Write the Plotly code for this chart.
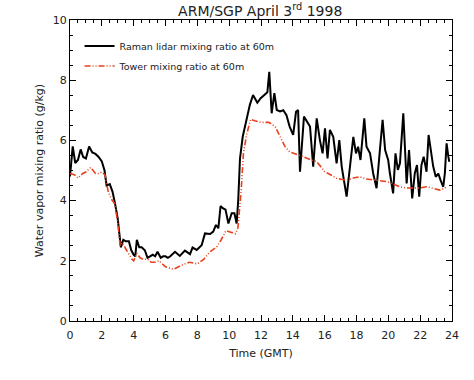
import plotly.graph_objects as go

lidar_t = [0.0, 0.17, 0.33, 0.5, 0.67, 0.83, 1.0, 1.2, 1.4, 1.6, 1.8, 2.0, 2.17, 2.3, 2.5, 2.67, 2.83, 3.0, 3.1, 3.2,
           3.35, 3.5, 3.7, 3.85, 4.0, 4.1, 4.2, 4.35, 4.5, 4.7, 4.87, 5.05, 5.2, 5.35, 5.5, 5.7, 5.85, 6.0, 6.15, 6.3,
           6.6, 6.9, 7.22, 7.54, 7.7, 7.96, 8.27, 8.48, 8.8, 9.0, 9.17, 9.32, 9.46, 9.6, 9.77, 9.95, 10.16, 10.33, 10.47, 10.57,
           10.68, 10.85, 11.1, 11.3, 11.5, 11.77, 11.98, 12.25, 12.4, 12.52, 12.6, 12.67, 12.84, 12.99, 13.2, 13.4, 13.6, 13.8, 14.02, 14.2,
           14.33, 14.45, 14.7, 14.93, 15.08, 15.28, 15.5, 15.7, 15.87, 16.02, 16.18, 16.33, 16.54, 16.75, 16.92, 17.07, 17.38, 17.59, 17.8, 17.97,
           18.1, 18.25, 18.49, 18.63, 18.85, 19.05, 19.26, 19.47, 19.64, 19.8, 19.99, 20.1, 20.3, 20.45, 20.6, 20.73, 20.94, 21.05, 21.15, 21.3,
           21.5, 21.66, 21.8, 21.94, 22.08, 22.22, 22.4, 22.53, 22.67, 22.82, 22.98, 23.14, 23.28, 23.45, 23.55, 23.66, 23.77, 23.83]
lidar_v = [4.8, 5.8, 5.25, 5.35, 5.7, 5.45, 5.4, 5.8, 5.6, 5.55, 5.45, 5.3, 5.0, 4.5, 4.55, 4.3, 3.9, 3.4, 2.9, 2.45,
           2.7, 2.65, 2.65, 2.35, 2.2, 2.15, 2.7, 2.45, 2.45, 2.35, 2.1, 2.15, 2.2, 2.15, 2.3, 2.1, 2.15, 2.15, 2.1, 2.15,
           2.3, 2.16, 2.34, 2.22, 2.44, 2.36, 2.52, 2.91, 2.89, 2.97, 3.19, 3.08, 3.82, 3.75, 3.7, 3.24, 3.58, 3.58, 3.24, 4.02,
           5.4, 6.12, 6.68, 7.18, 7.51, 7.25, 7.4, 7.51, 7.6, 8.28, 7.7, 6.9, 7.57, 7.01, 6.96, 7.0, 6.84, 6.46, 6.18, 6.95,
           7.01, 4.96, 6.79, 6.6, 6.46, 5.13, 6.73, 6.01, 5.57, 6.4, 5.4, 6.35, 6.12, 5.24, 6.01, 5.13, 4.13, 5.13, 6.12, 5.57,
           5.79, 5.35, 6.73, 5.79, 5.57, 4.9, 4.41, 5.68, 6.68, 5.68, 5.35, 4.9, 4.24, 5.57, 5.02, 5.24, 6.9, 5.68, 4.57, 5.68,
           4.07, 4.9, 5.18, 4.13, 5.18, 5.46, 4.96, 6.18, 5.68, 5.13, 4.79, 4.9, 4.68, 4.46, 4.9, 5.9, 5.46, 5.29]

tower_t = [0.0, 0.3, 0.5, 0.8, 1.0, 1.3, 1.6, 1.8, 2.0, 2.2, 2.4, 2.6, 2.8, 3.0, 3.15, 3.3, 3.5, 3.7, 3.9, 4.0,
           4.2, 4.4, 4.6, 4.9, 5.1, 5.3, 5.6, 6.0, 6.5, 7.0, 7.5, 8.0, 8.4, 8.8, 9.2, 9.5, 9.8, 10.1, 10.4, 10.55,
           10.75, 10.9, 11.1, 11.35, 11.6, 12.0, 12.5, 12.9, 13.2, 13.5, 13.8, 14.2, 14.65, 15.0, 15.5, 15.8, 16.0, 16.4, 16.75, 17.1,
           17.4, 17.8, 18.2, 18.6, 19.05, 19.5, 19.9, 20.3, 20.73, 21.1, 21.56, 22.0, 22.4, 22.8, 23.24, 23.5, 23.66]
tower_v = [4.9, 4.85, 4.75, 4.9, 4.95, 5.1, 4.9, 4.9, 4.95, 4.85, 4.3, 4.05, 3.9, 3.3, 2.5, 2.6, 2.4, 2.2, 2.05, 2.0,
           2.25, 2.1, 2.05, 2.05, 1.95, 1.95, 2.0, 1.8, 1.72, 1.85, 1.95, 1.9, 2.05, 2.3, 2.45, 2.7, 3.0, 2.95, 2.9, 3.1,
           4.3, 5.6, 6.2, 6.7, 6.65, 6.6, 6.6, 6.45, 6.1, 5.8, 5.62, 5.55, 5.46, 5.38, 5.29, 5.1, 4.96, 4.85, 4.74, 4.7,
           4.68, 4.75, 4.79, 4.72, 4.68, 4.65, 4.63, 4.55, 4.46, 4.42, 4.41, 4.42, 4.46, 4.4, 4.35, 4.4, 4.46]

x_ticks = list(range(0, 25, 2))
y_ticks = list(range(0, 11, 2))

FONT = "DejaVu Sans"
TXT = "#222222"

fig = go.Figure()
fig.add_trace(go.Scatter(x=lidar_t, y=lidar_v, mode="lines", name="Raman lidar mixing ratio at 60m",
                         legendgroup="a", line=dict(color="black", width=2)))
fig.add_trace(go.Scatter(x=tower_t, y=tower_v, mode="lines", name="Tower mixing ratio at 60m",
                         legendgroup="b", line=dict(color="#e8401c", width=1.6, dash="6px,2px,1px,2px,1px,2px")))

axis_common = dict(showgrid=False, zeroline=False, showline=True, linecolor="black", linewidth=1,
                   mirror="ticks", ticks="inside", ticklen=6, tickcolor="black", tickwidth=1,
                   automargin=False,
                   tickfont=dict(family=FONT, size=11, color=TXT))
fig.update_xaxes(range=[0, 24], tickvals=x_ticks, ticktext=[str(v) for v in x_ticks],
                 minor=dict(dtick=0.5, ticks="inside", ticklen=3, tickcolor="black"),
                 ticklabelstandoff=4,
                 title=dict(text="Time (GMT)", font=dict(family=FONT, size=11, color=TXT), standoff=8),
                 **axis_common)
fig.update_yaxes(range=[0, 10], tickvals=y_ticks, ticktext=[str(v) for v in y_ticks],
                 minor=dict(dtick=0.5, ticks="inside", ticklen=3, tickcolor="black"),
                 title=dict(text="Water vapor mixing ratio (g/kg)", font=dict(family=FONT, size=11, color=TXT), standoff=6),
                 **axis_common)

fig.update_layout(
    width=474, height=380,
    margin=dict(l=70, r=22, t=20, b=59),
    paper_bgcolor="white", plot_bgcolor="white",
    title=dict(text="ARM/SGP April 3<sup>rd</sup> 1998", x=0.549, xanchor="center", y=0.972, yanchor="middle",
               font=dict(family=FONT, size=14, color=TXT)),
    legend=dict(x=0.025, y=0.962, xanchor="left", yanchor="top", bgcolor="rgba(0,0,0,0)",
                font=dict(family=FONT, size=9.5, color=TXT), tracegroupgap=1, itemwidth=30),
    showlegend=True,
)

fig.write_html("out.html", config={"displayModeBar": False},
               post_script="document.body.style.margin='0';")
